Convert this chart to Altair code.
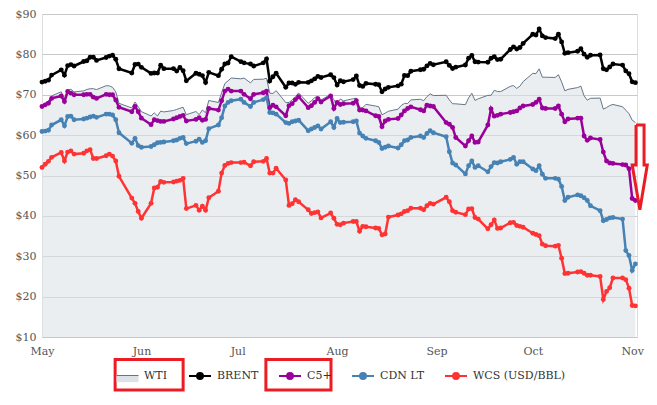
import altair as alt
import pandas as pd

YEAR = 2018
MONTH_DAYS = [
    (5, [1, 2, 3, 4, 7, 8, 9, 10, 11, 14, 15, 16, 17, 18, 21, 22, 23, 24, 25, 29, 30, 31]),
    (6, [1, 4, 5, 6, 7, 8, 11, 12, 13, 14, 15, 18, 19, 20, 21, 22, 25, 26, 27, 28, 29]),
    (7, [2, 3, 5, 6, 9, 10, 11, 12, 13, 16, 17, 18, 19, 20, 23, 24, 25, 26, 27, 30, 31]),
    (8, [1, 2, 3, 6, 7, 8, 9, 10, 13, 14, 15, 16, 17, 20, 21, 22, 23, 24, 27, 28, 29, 30, 31]),
    (9, [4, 5, 6, 7, 10, 11, 12, 13, 14, 17, 18, 19, 20, 21, 24, 25, 26, 27, 28]),
    (10, [1, 2, 3, 4, 5, 8, 9, 10, 11, 12, 15, 16, 17, 18, 19, 22, 23, 24, 25, 26, 29, 30, 31]),
    (11, [1, 2]),
]
DATES = [f"{YEAR}-{m:02d}-{d:02d}T00:00:00" for m, days in MONTH_DAYS for d in days]

WTI = (
    [67.25, 67.93, 68.43, 69.72, 70.73, 69.06, 71.14, 71.36, 70.70, 70.96, 71.31, 71.49, 71.49, 71.28, 72.24, 72.20, 71.84, 70.71, 67.88, 66.73, 68.21, 67.04]
    + [65.81, 64.75, 65.52, 64.73, 65.95, 65.74, 66.10, 66.36, 66.64, 66.89, 65.06, 65.85, 65.07, 66.22, 65.54, 68.58, 68.08, 70.53, 72.76, 73.45, 74.15]
    + [73.94, 74.14, 72.94, 73.80, 73.85, 74.11, 70.38, 70.33, 71.01, 68.06, 68.08, 68.76, 69.46, 70.46, 67.89, 68.52, 69.30, 69.61, 68.69, 70.13, 68.76]
    + [67.66, 68.96, 68.49, 69.01, 69.17, 66.94, 66.81, 67.63, 67.20, 67.04, 65.01, 65.46, 65.91, 66.43, 67.35, 67.86, 67.83, 68.72, 68.87, 68.53, 69.51, 70.25, 69.80]
    + [69.87, 68.72, 67.77, 67.75, 67.54, 69.25, 70.37, 68.59, 68.99, 69.85, 69.85, 71.12, 70.80, 70.78, 72.08, 72.28, 71.57, 72.12, 73.25]
    + [75.30, 75.23, 76.41, 74.33, 74.34, 74.29, 74.96, 73.17, 70.97, 71.34, 71.78, 72.13, 69.75, 68.65, 69.12, 69.17, 66.43, 66.82, 67.33, 67.59, 67.04, 66.18, 65.31]
    + [63.69, 63.14]
)
BRENT = (
    [73.13, 73.36, 73.62, 74.87, 76.17, 74.85, 77.21, 77.47, 77.12, 78.23, 78.43, 79.28, 79.30, 78.51, 79.22, 79.57, 79.80, 78.79, 76.44, 75.39, 77.50, 77.59]
    + [76.79, 75.29, 75.38, 75.36, 77.32, 76.46, 76.46, 75.88, 76.74, 75.94, 73.44, 75.34, 75.08, 74.74, 73.05, 75.55, 74.73, 76.31, 77.62, 77.85, 79.44]
    + [78.20, 77.90, 77.60, 77.11, 77.90, 78.86, 73.40, 74.45, 75.33, 71.84, 72.90, 72.90, 72.58, 73.07, 73.06, 73.44, 73.93, 74.54, 74.29, 74.97, 74.25]
    + [72.39, 73.45, 73.21, 73.75, 74.65, 72.28, 72.07, 72.81, 72.61, 72.46, 70.76, 71.43, 71.83, 72.21, 72.63, 74.78, 74.73, 75.82, 76.21, 76.31, 77.14, 77.77, 77.42]
    + [78.17, 77.27, 76.50, 76.83, 77.37, 79.06, 79.74, 78.18, 78.09, 78.05, 79.03, 79.40, 78.70, 78.80, 81.20, 81.87, 81.34, 81.72, 82.72]
    + [84.98, 84.80, 86.29, 84.58, 84.16, 83.91, 85.00, 83.09, 80.26, 80.43, 80.78, 81.41, 80.05, 79.29, 79.78, 79.83, 76.44, 76.17, 76.89, 77.62, 77.34, 75.91, 75.20]
    + [73.20, 73.00]
)
C5 = (
    [67.1, 67.5, 67.9, 69.1, 69.7, 68.3, 70.8, 70.4, 70.0, 70.0, 70.1, 70.1, 69.4, 69.1, 70.1, 70.0, 70.0, 68.7, 66.9, 65.8, 67.1, 65.8]
    + [64.2, 62.6, 63.8, 63.6, 63.4, 63.4, 64.0, 64.3, 64.6, 64.9, 63.5, 63.9, 64.3, 63.7, 63.9, 66.6, 66.2, 68.5, 70.9, 71.4, 70.9]
    + [70.9, 70.1, 69.0, 70.1, 70.5, 70.9, 66.8, 67.4, 67.0, 64.8, 67.3, 67.8, 68.8, 69.5, 66.8, 67.3, 68.1, 69.0, 68.2, 69.7, 66.6]
    + [68.1, 67.6, 67.8, 67.9, 68.5, 66.2, 66.2, 66.0, 64.8, 64.6, 62.1, 63.5, 63.9, 64.1, 65.0, 66.0, 66.6, 67.0, 66.3, 66.0, 67.4, 67.2, 67.1]
    + [63.1, 62.7, 61.9, 59.4, 57.3, 58.6, 59.8, 58.2, 58.3, 62.5, 66.5, 64.7, 64.9, 65.2, 65.6, 65.8, 66.0, 66.7, 67.2]
    + [67.6, 68.1, 68.9, 66.7, 66.6, 66.6, 67.2, 65.2, 63.3, 64.0, 64.2, 64.2, 59.8, 58.7, 59.3, 58.9, 55.8, 53.6, 53.1, 53.0, 52.7, 52.6, 51.7]
    + [44.3, 43.8]
)
CDN_LT = (
    [60.9, 61.0, 61.2, 62.5, 63.8, 62.3, 64.6, 64.7, 63.8, 64.0, 64.2, 64.5, 64.7, 64.4, 65.2, 65.2, 65.0, 63.8, 60.6, 58.0, 59.2, 57.4]
    + [57.0, 57.2, 57.6, 58.1, 58.2, 58.3, 58.6, 58.8, 59.2, 59.4, 57.9, 58.5, 59.0, 58.2, 58.6, 61.6, 62.5, 64.3, 67.2, 68.1, 68.5]
    + [68.9, 68.1, 67.1, 68.1, 68.8, 69.3, 65.6, 65.5, 65.2, 63.1, 62.9, 63.3, 63.5, 63.7, 61.1, 61.5, 61.9, 62.3, 61.5, 63.3, 61.9]
    + [64.1, 63.1, 63.2, 63.3, 63.5, 60.5, 59.8, 59.2, 58.6, 58.2, 56.7, 57.0, 57.3, 56.8, 57.6, 58.6, 58.8, 59.4, 59.8, 59.4, 60.4, 61.1, 60.6]
    + [59.6, 55.9, 53.1, 52.6, 50.4, 52.4, 53.6, 52.0, 52.4, 50.9, 52.2, 53.2, 53.1, 53.4, 54.0, 54.5, 52.8, 53.4, 53.4]
    + [51.6, 51.2, 52.4, 50.3, 49.3, 49.3, 49.1, 47.3, 43.8, 44.6, 45.2, 45.0, 44.5, 43.8, 42.5, 41.3, 38.8, 39.1, 39.5, 39.6, 39.2, 31.4, 30.2]
    + [26.5, 28.1]
)
WCS = (
    [52.0, 52.8, 53.5, 54.5, 55.7, 53.6, 55.8, 56.1, 55.3, 55.5, 56.1, 56.4, 54.2, 54.2, 54.9, 55.3, 54.8, 53.6, 49.8, 44.4, 43.1, 41.1]
    + [39.4, 43.1, 46.9, 47.1, 48.5, 48.3, 48.4, 48.6, 48.8, 49.3, 41.8, 42.6, 41.4, 42.4, 41.4, 44.5, 46.1, 50.6, 52.5, 53.0, 53.2]
    + [53.2, 53.3, 52.4, 53.4, 53.5, 54.2, 50.6, 50.6, 51.8, 48.9, 42.6, 43.0, 44.0, 43.5, 41.5, 40.6, 40.8, 41.0, 39.5, 40.7, 39.4]
    + [37.9, 37.8, 38.2, 38.6, 38.6, 36.2, 37.4, 37.3, 37.0, 36.9, 35.3, 35.5, 39.7, 40.2, 40.5, 41.1, 41.3, 41.9, 41.9, 41.5, 42.5, 43.1, 42.9]
    + [44.6, 43.5, 41.3, 40.9, 40.3, 41.7, 41.8, 39.6, 39.2, 36.8, 37.8, 39.0, 36.9, 37.0, 38.3, 38.4, 37.6, 37.4, 37.2]
    + [35.7, 35.4, 35.1, 33.0, 32.6, 32.5, 32.7, 29.5, 25.7, 25.8, 26.1, 26.2, 25.8, 25.3, 25.3, 25.0, 19.3, 21.3, 22.2, 24.6, 24.6, 24.2, 22.1]
    + [17.8, 17.7]
)

SERIES = ["WTI", "BRENT", "C5+", "CDN LT", "WCS (USD/BBL)"]
COLORS = ["#66768a", "#000000", "#990099", "#4682b4", "#ff3333"]
WTI_FILL = "#dde2e8"
Y_TICKS = [10, 20, 30, 40, 50, 60, 70, 80, 90]
MONTH_TICKS = [5, 6, 7, 8, 9, 10, 11]

# annotation geometry (days after May 1 / price units)
ARROW_DAY = [185.2, 187.7, 187.7, 188.7, 186.4, 184.0, 185.2, 185.2]
ARROW_VAL = [62.5, 62.5, 52.6, 52.6, 41.5, 52.6, 52.6, 62.5]
BOX_DAY_START = [22.8, 69.8]
BOX_DAY_END = [44.0, 90.1]
BOX_VAL_TOP = 4.4
BOX_VAL_BOTTOM = -3.1

for s in (WTI, BRENT, C5, CDN_LT, WCS):
    assert len(s) == len(DATES), len(s)

rows = []
for name, vals in zip(SERIES, [WTI, BRENT, C5, CDN_LT, WCS]):
    for d, v in zip(DATES, vals):
        rows.append({"date": d, "series": name, "value": v})
df = pd.DataFrame(rows)

start = pd.Timestamp(f"{YEAR}-05-01")
def day_to_iso(day):
    return (start + pd.to_timedelta(day, unit="D")).strftime("%Y-%m-%dT%H:%M:%S")

arrow_df = pd.DataFrame({
    "date": [day_to_iso(d) for d in ARROW_DAY],
    "value": ARROW_VAL,
    "order": list(range(len(ARROW_DAY))),
})
box_df = pd.DataFrame({
    "date": [day_to_iso(d) for d in BOX_DAY_START],
    "date2": [day_to_iso(d) for d in BOX_DAY_END],
    "value": [BOX_VAL_TOP] * 2,
    "value2": [BOX_VAL_BOTTOM] * 2,
})

FONT = "DejaVu Serif"
RED = "#ec1c24"

x_scale = alt.Scale(domain=[alt.DateTime(year=YEAR, month=5, date=1),
                            alt.DateTime(year=YEAR, month=11, date=2, hours=12)])
y_scale = alt.Scale(domain=[10, 90], nice=False, zero=False)

x_axis = alt.Axis(
    title=None, format="%b", grid=False, ticks=False, domain=False,
    values=[alt.DateTime(year=YEAR, month=m, date=1) for m in MONTH_TICKS],
    labelFont=FONT, labelFontSize=11, labelColor="#555555", labelPadding=8,
    labelFlush=False,
)
y_axis = alt.Axis(
    title=None, values=Y_TICKS, labelExpr="'$' + datum.value",
    grid=True, gridColor="#c8c8c8", gridWidth=1, ticks=False, domain=False,
    labelFont=FONT, labelFontSize=11, labelColor="#555555", labelPadding=6,
)

LINE_DOT = "M-1,0L1,0M-0.27,0A0.27,0.27,0,1,1,0.27,0A0.27,0.27,0,1,1,-0.27,0Z"
AREA_SYM = "M-1,0L1,0L1,0.6L-1,0.6Z"

line_legend = alt.Legend(
    title=None, orient="none", direction="horizontal", legendX=146, legendY=350,
    values=SERIES[1:],
    labelFont=FONT, labelFontSize=11, labelColor="#333333",
    symbolType=LINE_DOT, symbolSize=484, symbolStrokeWidth=2, columnPadding=16,
    labelOffset=5, symbolOpacity=1,
)
area_legend = alt.Legend(
    title=None, orient="none", direction="horizontal", legendX=74, legendY=350,
    labelFont=FONT, labelFontSize=11, labelColor="#333333",
    symbolType=AREA_SYM, symbolSize=484, symbolStrokeWidth=1,
    symbolStrokeColor=COLORS[0], symbolDash=[22, 300],
    labelOffset=5, symbolOpacity=1,
)
color = alt.Color("series:N", scale=alt.Scale(domain=SERIES, range=COLORS), legend=line_legend)

base = alt.Chart(df).encode(
    x=alt.X("date:T", scale=x_scale, axis=x_axis, title=None),
    y=alt.Y("value:Q", scale=y_scale, axis=y_axis, title=None),
)

wti = base.transform_filter(alt.datum.series == "WTI")
area = wti.mark_area(fillOpacity=0.6, strokeWidth=0).encode(
    y2=alt.datum(10),
    fill=alt.Fill("series:N", scale=alt.Scale(domain=["WTI"], range=[WTI_FILL]), legend=area_legend),
)
wti_line = wti.mark_line(strokeWidth=1).encode(color=color)
others = base.transform_filter(alt.datum.series != "WTI")
lines = others.mark_line(strokeWidth=2.5).encode(color=color)
points = others.mark_circle(size=24, opacity=1).encode(color=color)

arrow = alt.Chart(arrow_df).mark_line(color=RED, strokeWidth=3, strokeJoin="miter").encode(
    x="date:T", y="value:Q", order="order:Q"
)
boxes = alt.Chart(box_df).mark_rect(fillOpacity=0, stroke=RED, strokeWidth=3).encode(
    x="date:T", x2="date2:T", y="value:Q", y2="value2:Q"
)

chart = alt.layer(area, wti_line, lines, points, arrow, boxes).properties(
    width=595, height=323,
    autosize=alt.AutoSizeParams(type="none"),
    padding={"left": 34, "top": 6, "right": 12, "bottom": 58},
).configure_view(stroke=None).configure(background="white")

chart.save("out.html", embed_options={"renderer": "svg", "actions": False})
